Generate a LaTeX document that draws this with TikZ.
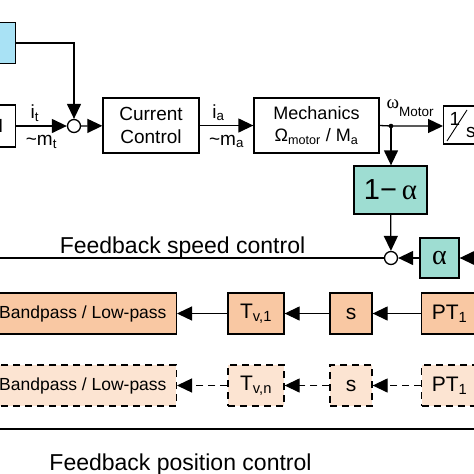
\documentclass[tikz,border=0pt]{standalone}
\usepackage{fontspec}
\setmainfont{Liberation Sans}
\newfontfamily\grk{Liberation Serif}
\usetikzlibrary{arrows.meta}
\definecolor{skyblue}{HTML}{A9E2F5}
\definecolor{tealbox}{HTML}{9EDDD2}
\definecolor{orng}{HTML}{F9C8A3}
\definecolor{orngl}{HTML}{FCE4D2}
\begin{document}
\begin{tikzpicture}[x=1pt, y=-1pt, line width=1.3pt, >={Triangle[length=15pt,width=14pt]},
	font=\fontsize{19}{23}\selectfont,
	blk/.style={draw, inner sep=2pt, align=center, minimum height=55},
	sum/.style={draw, circle, fill=white, minimum size=13, inner sep=0pt},
	obox/.style={draw, fill=orng, inner sep=2pt, minimum height=41},
	dbox/.style={obox, fill=orngl, dash pattern=on 7pt off 5pt},
	lbl/.style={inner sep=0pt},
	big/.style={font=\fontsize{23}{23}\selectfont}]
	\useasboundingbox (0,0) rectangle (474,474);
	\clip (0,0) rectangle (474,474);
	% forward path
	\node[blk, fill=skyblue, anchor=east, minimum width=40, minimum height=41] (W) at (16,43) {};
	\node[blk, anchor=east, minimum width=40, minimum height=42] (M) at (16,126) {M};
	\node[sum] (S1) at (74,126) {};
	\node[blk, minimum width=96] (C) at (151,125.5) {Current\\Control};
	\node[blk, minimum width=125, font=\fontsize{18}{22.5}\selectfont] (Ms) at (316.5,125.5)
		{Mechanics\\Ω\textsubscript{motor} / M\textsubscript{a}};
	\coordinate (D) at (391,126);
	\node[blk, anchor=west, minimum height=38, inner xsep=6pt] (I) at (443,125)
		{\raisebox{5pt}{1}\hspace{6pt}\raisebox{-7pt}{s}};
	\draw[line width=0.9pt] ([shift={(4,16)}]I.west) -- ([shift={(24,-15)}]I.west);
	\node[anchor=base west, inner sep=0pt] (w) at (386,108)
		{{\grk\fontsize{19}{19}\selectfont ω}\raisebox{-8pt}{\fontsize{13.5}{14}\selectfont Motor}};
	% speed feedback
	\node[blk, fill=tealbox, minimum width=73, minimum height=48, font=\fontsize{29}{29}\selectfont] (A1) at (390.5,190) {1−\,{\grk α}};
	\node[sum] (S2) at (391,258) {};
	\node[blk, fill=tealbox, minimum width=39, minimum height=40, font=\grk\fontsize{28}{28}\selectfont] (A2) at (439.5,258) {α};
	\coordinate (Ain) at (480,258);
	\coordinate (Lout) at (-5,258);
	\node[big, anchor=base] (fs) at (182.5,253) {Feedback speed control};
	\draw[->] (W.east) -| (S1.north);
	\draw[->] (M) -- node[lbl, pos=.37, above=4pt]{i\textsubscript{t}} node[lbl, below=9pt]{\textasciitilde m\textsubscript{t}} (S1);
	\draw[->] (S1) -- (C);
	\draw[->] (C) -- node[lbl, pos=.35, above=4pt]{i\textsubscript{a}} node[lbl, below=9pt]{\textasciitilde m\textsubscript{a}} (Ms);
	\draw[->] (Ms.east) -- (D) -- (D -| I.west);
	\fill (D) circle (2.3);
	\draw[->] (D) -- (D |- A1.north);
	\draw[->] (A1) -- (S2);
	\draw[->] (A2) -- (S2);
	\draw[->] (Ain) -- (A2);
	\draw (S2) -- (Lout);
	% position feedback
	\node[obox, anchor=east, minimum width=187, font=\fontsize{17.5}{21}\selectfont] (B1) at (177,313.5) {Bandpass / Low-pass};
	\node[obox, minimum width=56, font=\fontsize{21}{21}\selectfont] (T1) at (256,313.5) {T\textsubscript{v,1}};
	\node[obox, minimum width=42, font=\fontsize{21}{21}\selectfont] (D1) at (351,313.5) {s};
	\node[obox, anchor=west, minimum width=56, font=\fontsize{21}{21}\selectfont] (P1) at (421,313.5) {PT\textsubscript{1}};
	\node[dbox, anchor=east, minimum width=187, font=\fontsize{17.5}{21}\selectfont] (B2) at (177,385.5) {Bandpass / Low-pass};
	\node[dbox, minimum width=56, font=\fontsize{21}{21}\selectfont] (T2) at (256,385.5) {T\textsubscript{v,n}};
	\node[dbox, minimum width=42, font=\fontsize{21}{21}\selectfont] (D2) at (351,385.5) {s};
	\node[dbox, anchor=west, minimum width=56, font=\fontsize{21}{21}\selectfont] (P2) at (421,385.5) {PT\textsubscript{1}};
	\foreach \a/\b in {P1/D1, D1/T1, T1/B1}{
	\draw[->] (\a) -- (\b);
	}
	\foreach \a/\b in {P2/D2, D2/T2, T2/B2}{
	\draw[->, dash pattern=on 7pt off 5pt] (\a) -- (\b);
	}
	\coordinate (L) at (-5,429);
	\coordinate (R) at (480,429);
	\draw (L) -- (R);
	\node[big, anchor=base] (fp) at (180.5,470) {Feedback position control};
\end{tikzpicture}
\end{document}
